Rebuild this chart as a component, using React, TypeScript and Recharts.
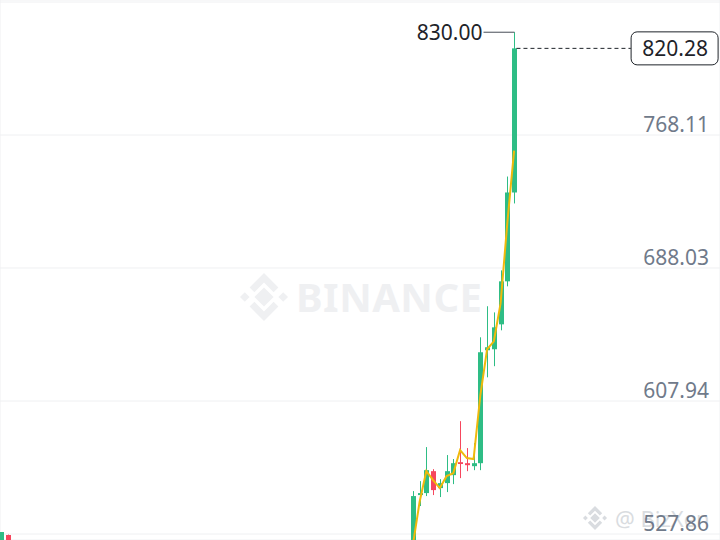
import React from 'react';
import { ComposedChart, Bar, Line, XAxis, YAxis, CartesianGrid, ReferenceLine, ReferenceDot } from 'recharts';

// candle slot index (time), only candles that fall inside the visible price range
const slots = [0, 1, 61, 62, 63, 64, 65, 66, 67, 68, 69, 70, 71, 72, 73, 74, 75, 76];
const opens = [522, 527.26, 512, 551.3, 552.5, 565.7, 555.5, 558.5, 563.3, 571.1, 570.5, 568.7, 570.5, 638.5, 639.1, 654.1, 680.0, 733.5];
const highs = [529.06, 527.5, 553.7, 559.7, 580.2, 566.9, 560.9, 575.4, 573.0, 595.8, 579.6, 582.6, 646.3, 665.0, 661.3, 686.6, 743.1, 830.0];
const lows = [518, 520, 508, 544.7, 550.7, 551.3, 550.1, 553.1, 557.9, 561.5, 565.7, 566.3, 566.3, 622.2, 628.9, 650.5, 677.0, 726.9];
const closes = [529.06, 523, 550.7, 552.5, 566.3, 554.3, 558.5, 565.7, 570.5, 570.0, 569.3, 570.5, 637.3, 640.3, 652.3, 680.0, 733.5, 820.28];
const maValues: (number | null)[] = [null, null, 521, 547.1, 565.7, 560.3, 555.5, 562.7, 564.5, 578.4, 573.6, 573.0, 611.4, 639.1, 643.9, 666.7, 715.4, 758.7];

const priceTicks = [527.86, 607.94, 688.03, 768.11, 848.19];
const labelledTicks = [527.86, 607.94, 688.03, 768.11];
const timeTicks = [13.2, 49.05];
const lastPrice = 820.28;
const highPrice = 830.0;
const lastSlot = 76;
const tagSlot = 99.85;
const tagStartSlot = 93.3;

const GREEN = '#2EBD85';
const RED = '#F6465D';
const YELLOW = '#F0B90B';
const FONT = '"Noto Sans", sans-serif';

const data = slots.map((t, i) => ({
  t,
  open: opens[i],
  high: highs[i],
  low: lows[i],
  close: closes[i],
  range: [lows[i], highs[i]],
  ma: maValues[i],
  isHigh: highs[i] === highPrice,
}));

const Candle = (props: any) => {
  const { x, y, width, height, payload } = props;
  if (!payload) return null;
  const { open, close, high, low, isHigh } = payload;
  const up = close >= open;
  const color = up ? GREEN : RED;
  const top = Math.min(y, y + height);
  const h = Math.abs(height);
  const ppu = h / (high - low);
  const cx = Math.round(x + width / 2) + 0.5;
  const yo = top + (high - open) * ppu;
  const yc = top + (high - close) * ppu;
  const bTop = Math.min(yo, yc);
  const bh = Math.max(1.5, Math.abs(yo - yc));
  return (
    <g>
      <line x1={cx} x2={cx} y1={top} y2={top + h} stroke={color} strokeWidth={1} />
      <rect x={cx - 2.5} y={bTop} width={5} height={bh} fill={color} />
      {isHigh && (
        <g>
          <line x1={cx - 31} x2={cx} y1={top} y2={top} stroke="#474D57" strokeWidth={1} />
          <text x={cx - 32} y={top + 7.5} textAnchor="end" fontFamily={FONT} fontSize={21} fill="#1E2329">
            {highPrice.toFixed(2)}
          </text>
        </g>
      )}
    </g>
  );
};

const PriceTick = (props: any) => {
  const { x, y, payload } = props;
  const v = Number(payload.value);
  if (!labelledTicks.includes(v)) return <g />;
  return (
    <text x={x - 11} y={y - 3} textAnchor="end" fontFamily={FONT} fontSize={21} fill="#707A8A">
      {v.toFixed(2)}
    </text>
  );
};

const PriceTag = (props: any) => {
  const { cx, cy } = props;
  return (
    <g>
      <rect x={cx - 44} y={cy - 16.5} width={87} height={33} rx={6} ry={6} fill="#fff" stroke="#1E2329" strokeWidth={1} />
      <text x={cx} y={cy + 7.5} textAnchor="middle" fontFamily={FONT} fontSize={21} fill="#1E2329">
        {lastPrice.toFixed(2)}
      </text>
    </g>
  );
};

const BinanceLogo = ({ size, color }: { size: number; color: string }) => (
  <svg width={size} height={size} viewBox="0 0 100 100">
    <g fill={color}>
      <polygon points="50,30 70,50 50,70 30,50" />
      <polygon points="50,0 80,30 70,40 50,20 30,40 20,30" />
      <polygon points="50,100 20,70 30,60 50,80 70,60 80,70" />
      <polygon points="10,40 20,50 10,60 0,50" />
      <polygon points="90,40 100,50 90,60 80,50" />
    </g>
  </svg>
);

export default function App() {
  return (
    <div style={{ position: 'absolute', left: 0, top: 0, width: 720, height: 540, overflow: 'hidden', background: '#fff' }}>
      <div style={{ position: 'absolute', left: 240, top: 269, display: 'flex', alignItems: 'center' }}>
        <BinanceLogo size={48} color="#EFF0F2" />
        <span style={{ marginLeft: 8, fontFamily: FONT, fontWeight: 700, fontSize: 40, color: '#EFF0F2', letterSpacing: 0.5 }}>BINANCE</span>
      </div>
      <div style={{ position: 'absolute', left: 583, top: 503, display: 'flex', alignItems: 'center' }}>
        <BinanceLogo size={24} color="#D9DCE0" />
        <span style={{ marginLeft: 8, fontFamily: FONT, fontSize: 22, color: '#D9DCE0' }}>@ BizXen</span>
      </div>
      <div style={{ position: 'absolute', left: 0, top: 0 }}>
        <ComposedChart width={720} height={540} data={data} margin={{ top: 0, right: 0, bottom: 0, left: 0 }}>
          <CartesianGrid stroke="#EFF0F2" strokeWidth={1} />
          <XAxis
            type="number"
            dataKey="t"
            domain={[-0.15, 106.5]}
            allowDataOverflow
            ticks={timeTicks}
            height={0}
            tick={false}
            axisLine={false}
            tickLine={false}
          />
          <YAxis
            orientation="right"
            mirror
            domain={[524.25, 849.4]}
            allowDataOverflow
            ticks={priceTicks}
            tick={<PriceTick />}
            tickSize={0}
            tickMargin={0}
            axisLine={false}
            tickLine={false}
            interval={0}
          />
          <Bar dataKey="range" barSize={5} shape={<Candle />} isAnimationActive={false} />
          <Line type="linear" dataKey="ma" stroke={YELLOW} strokeWidth={2} dot={false} connectNulls={false} isAnimationActive={false} />
          <ReferenceLine
            segment={[{ x: lastSlot + 0.35, y: lastPrice }, { x: tagStartSlot, y: lastPrice }]}
            stroke="#1E2329"
            strokeDasharray="4 3"
            strokeWidth={1}
          />
          <ReferenceDot x={tagSlot} y={lastPrice} shape={<PriceTag />} />
        </ComposedChart>
      </div>
    </div>
  );
}
